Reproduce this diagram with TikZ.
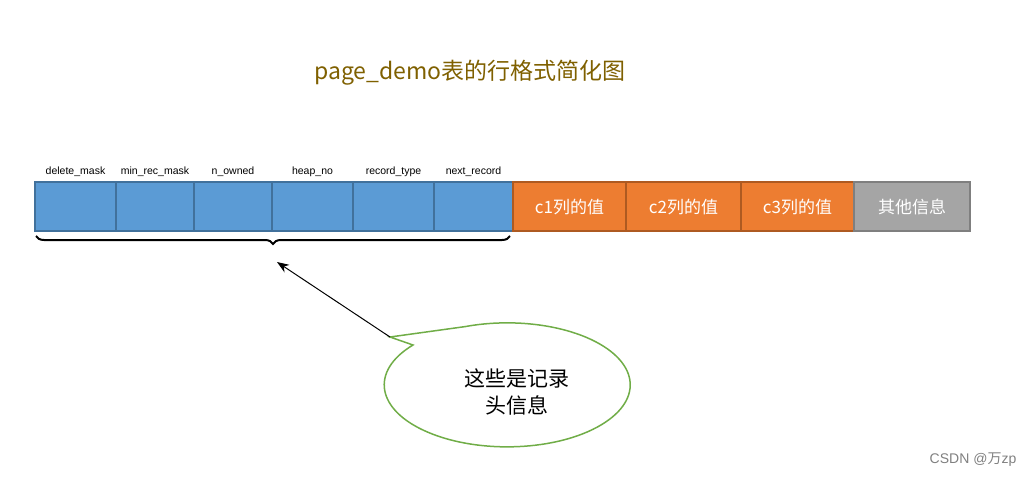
\documentclass[tikz,border=0pt]{standalone}
\usepackage{fontspec}
\setmainfont{Liberation Sans}
\newfontfamily\cjk{Noto Sans CJK SC}
\usetikzlibrary{decorations.pathreplacing,arrows.meta}
\definecolor{bl}{HTML}{5B9BD5}
\definecolor{bld}{HTML}{41719C}
\definecolor{org}{HTML}{ED7D31}
\definecolor{orgd}{HTML}{AE5A21}
\definecolor{gr}{HTML}{A5A5A5}
\definecolor{grd}{HTML}{7F7F7F}
\definecolor{tit}{HTML}{7F6000}
\definecolor{gn}{HTML}{70AD47}
\begin{document}
\begin{tikzpicture}[x=1pt,y=-1pt,
 cell/.style={draw=bld,fill=bl,line width=1.5pt},
 oc/.style={draw=orgd,fill=org,line width=1.5pt},
 gc/.style={draw=grd,fill=gr,line width=1.5pt},
 lab/.style={font=\fontsize{10.5}{12}\selectfont,anchor=base},
 ct/.style={text=white,font=\cjk\fontsize{17}{19}\selectfont}]
\useasboundingbox (0,0) rectangle (1034,479);
\node[text=tit,font=\cjk\fontsize{23}{26}\selectfont] (title) at (470,73) {page\_demo表的行格式简化图};
\foreach \a/\b/\t [count=\i] in {35/116/delete\_mask,116/194/min\_rec\_mask,194/272/n\_owned,272/353/heap\_no,353/434/record\_type,434/513/next\_record}{
 \draw[cell] (\a,182) rectangle (\b,231);
 \node[lab] (l\i) at ({(\a+\b)/2},174) {\t};
}
\draw[oc] (513,182) rectangle (626,231); \node[ct] (c1) at (569.5,207) {c1列的值};
\draw[oc] (626,182) rectangle (741,231); \node[ct] (c2) at (683.5,207) {c2列的值};
\draw[oc] (741,182) rectangle (854,231); \node[ct] (c3) at (797.5,207) {c3列的值};
\draw[gc] (854,182) rectangle (970,231); \node[ct] (o) at (912,207) {其他信息};
\draw[line width=2pt,decorate,decoration={brace,mirror,amplitude=8pt,aspect=0.5}] (36,236) -- (510,236);
\coordinate (tip) at (277,262);
\coordinate (cp) at (390,337);
\draw[draw=gn,fill=white,line width=1.5pt] (cp) -- (413,345)
 arc[start angle=220,end angle=-110,x radius=123,y radius=62] -- cycle;
\node[font=\cjk\fontsize{21}{27}\selectfont,align=center] (call) at (517,392) {这些是记录\\头信息};
\draw[-{Stealth[length=12pt,width=9pt]},line width=1pt] (cp) -- (tip);
\node[text=gray,font=\fontsize{14}{16}\selectfont] (wm) at (973,460) {CSDN @{\cjk 万}zp};
\end{tikzpicture}
\end{document}
